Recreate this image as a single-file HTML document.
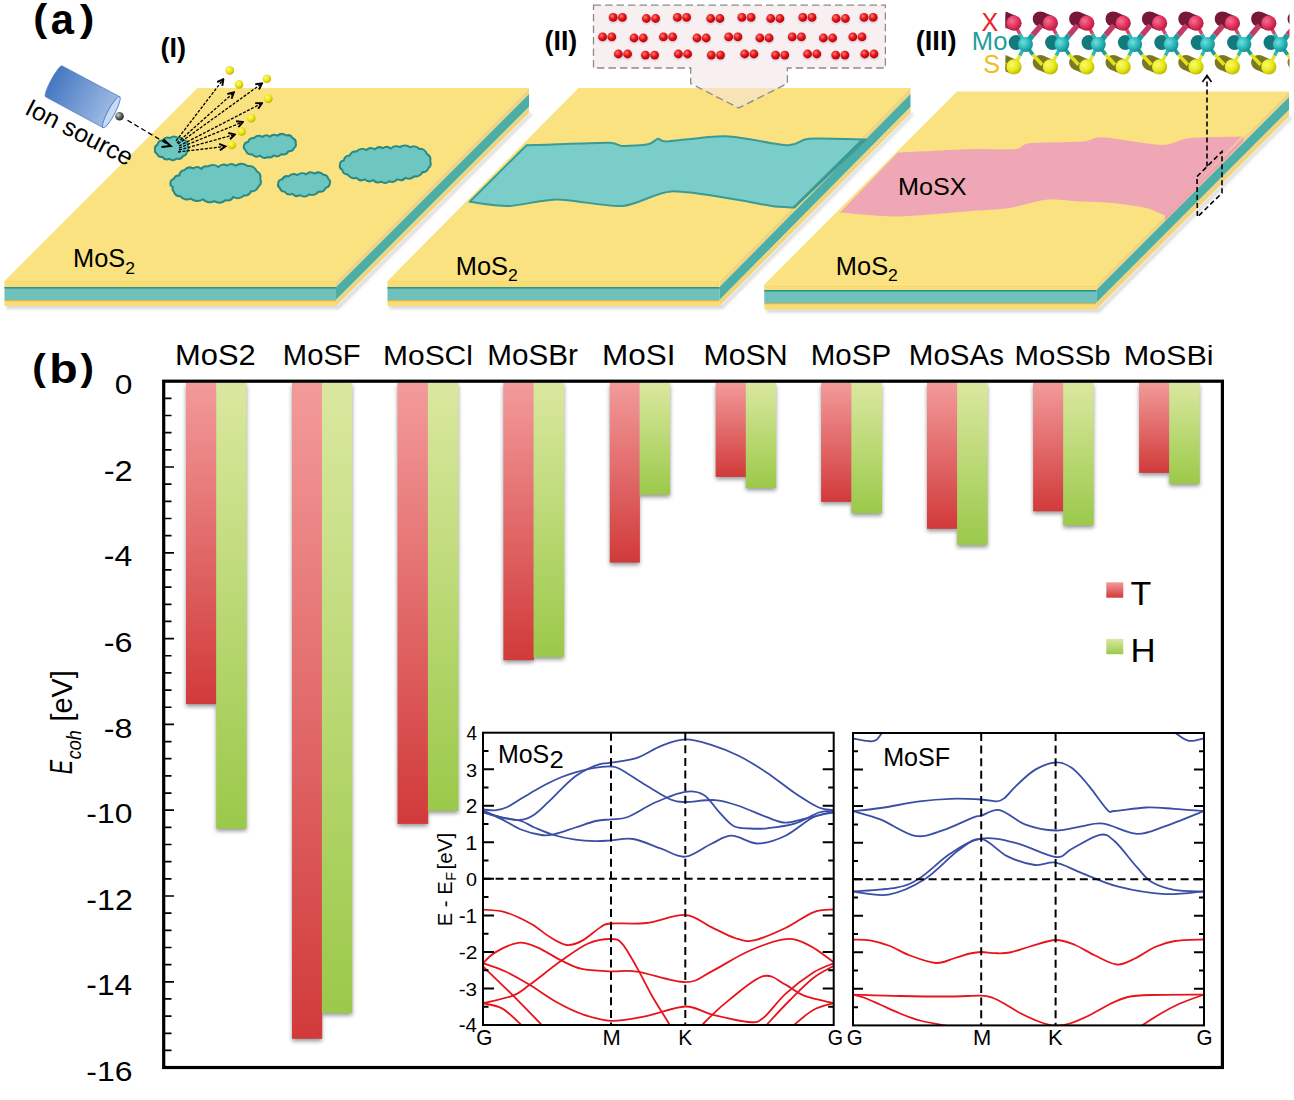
<!DOCTYPE html>
<html><head><meta charset="utf-8"><style>
html,body{margin:0;padding:0;background:#fff;}
svg{display:block;font-family:"Liberation Sans", sans-serif;}
</style></head><body>
<svg width="1294" height="1100" viewBox="0 0 1294 1100">
<defs>
<linearGradient id="cyl" x1="0" y1="0" x2="1" y2="0"><stop offset="0" stop-color="#4577c2"/><stop offset="1" stop-color="#9ebbe3"/></linearGradient>
<radialGradient id="ball" cx="0.35" cy="0.35" r="0.7"><stop offset="0" stop-color="#cfcfcf"/><stop offset="0.5" stop-color="#666"/><stop offset="1" stop-color="#222"/></radialGradient>
<marker id="arr" viewBox="0 0 10 10" refX="8.5" refY="5" markerUnits="userSpaceOnUse" markerWidth="8" markerHeight="8" orient="auto"><path d="M1,1 L8.5,5 L1,9" fill="none" stroke="#000" stroke-width="2.4" stroke-linejoin="miter"/></marker>
<radialGradient id="yb" cx="0.38" cy="0.35" r="0.7"><stop offset="0" stop-color="#fbfb7a"/><stop offset="0.6" stop-color="#ecdf10"/><stop offset="1" stop-color="#b8a800"/></radialGradient>
<radialGradient id="rb" cx="0.38" cy="0.35" r="0.7"><stop offset="0" stop-color="#ff7a7a"/><stop offset="0.5" stop-color="#e81414"/><stop offset="1" stop-color="#b00000"/></radialGradient>
<radialGradient id="xg" cx="0.35" cy="0.35" r="0.7"><stop offset="0" stop-color="#f7708f"/><stop offset="0.6" stop-color="#e0305c"/><stop offset="1" stop-color="#b01c44"/></radialGradient>
<radialGradient id="mg" cx="0.35" cy="0.35" r="0.7"><stop offset="0" stop-color="#6fdede"/><stop offset="0.6" stop-color="#29b5b8"/><stop offset="1" stop-color="#168a8c"/></radialGradient>
<radialGradient id="sg" cx="0.35" cy="0.35" r="0.7"><stop offset="0" stop-color="#fbfb6a"/><stop offset="0.6" stop-color="#e8e81c"/><stop offset="1" stop-color="#b8b800"/></radialGradient>
<clipPath id="chainclip"><rect x="1005.5" y="8" width="284" height="70"/></clipPath>
<linearGradient id="gr" x1="0" y1="0" x2="0" y2="1"><stop offset="0" stop-color="#f39a9a"/><stop offset="1" stop-color="#d13a3a"/></linearGradient>
<linearGradient id="gg" x1="0" y1="0" x2="0" y2="1"><stop offset="0" stop-color="#dae89f"/><stop offset="1" stop-color="#9bc94a"/></linearGradient>
<filter id="bsh" x="-30%" y="-5%" width="160%" height="115%"><feGaussianBlur stdDeviation="2"/></filter>
<filter id="blur2" x="-5%" y="-20%" width="110%" height="150%"><feGaussianBlur stdDeviation="1.5"/></filter>
<clipPath id="c1"><rect x="483" y="732.7" width="350.7" height="292.3"/></clipPath>
<clipPath id="c2"><rect x="853" y="733" width="351" height="292.4"/></clipPath>
</defs>
<rect width="1294" height="1100" fill="#fff"/>
<polygon points="6.5,305 338,305 531,112 532,115 339,309 6.5,309" fill="#bbb" filter="url(#blur2)" opacity="0.6"/>
<polygon points="197.5,88 529,88 336,281 4.5,281" fill="#fae280" />
<polygon points="4.5,281 336,281 336,287 4.5,287" fill="#f9dc74" />
<polygon points="4.5,287 336,287 336,300 4.5,300" fill="#70c1bc" />
<rect x="4.5" y="287" width="331.5" height="1.6" fill="#2a948e"/>
<polygon points="4.5,300 336,300 336,306 4.5,306" fill="#f9dc74" />
<rect x="4.5" y="300" width="331.5" height="1.2" fill="#d8b450"/>
<polygon points="336,281 529,88 529,94 336,287" fill="#f1d57c" />
<polygon points="336,287 529,94 529,107 336,300" fill="#4caea7" />
<polygon points="336,300 529,107 529,113 336,306" fill="#f1d57c" />
<polygon points="389.5,305 721.5,305 912.5,112 913.5,115 722.5,309 389.5,309" fill="#bbb" filter="url(#blur2)" opacity="0.6"/>
<polygon points="578.5,88 910.5,88 719.5,281 387.5,281" fill="#fae280" />
<polygon points="387.5,281 719.5,281 719.5,287 387.5,287" fill="#f9dc74" />
<polygon points="387.5,287 719.5,287 719.5,300 387.5,300" fill="#70c1bc" />
<rect x="387.5" y="287" width="332" height="1.6" fill="#2a948e"/>
<polygon points="387.5,300 719.5,300 719.5,306 387.5,306" fill="#f9dc74" />
<rect x="387.5" y="300" width="332" height="1.2" fill="#d8b450"/>
<polygon points="719.5,281 910.5,88 910.5,94 719.5,287" fill="#f1d57c" />
<polygon points="719.5,287 910.5,94 910.5,107 719.5,300" fill="#4caea7" />
<polygon points="719.5,300 910.5,107 910.5,113 719.5,306" fill="#f1d57c" />
<polygon points="766.3,308.5 1098.3,308.5 1291,115.5 1292,118.5 1099.3,312.5 766.3,312.5" fill="#bbb" filter="url(#blur2)" opacity="0.6"/>
<polygon points="957,91.5 1289,91.5 1096.3,284.5 764.3,284.5" fill="#fae280" />
<polygon points="764.3,284.5 1096.3,284.5 1096.3,290 764.3,290" fill="#f9dc74" />
<polygon points="764.3,290 1096.3,290 1096.3,303 764.3,303" fill="#70c1bc" />
<rect x="764.3" y="290" width="332" height="1.6" fill="#2a948e"/>
<polygon points="764.3,303 1096.3,303 1096.3,309.5 764.3,309.5" fill="#f9dc74" />
<rect x="764.3" y="303" width="332" height="1.2" fill="#d8b450"/>
<polygon points="1096.3,284.5 1289,91.5 1289,97 1096.3,290" fill="#f1d57c" />
<polygon points="1096.3,290 1289,97 1289,110 1096.3,303" fill="#4caea7" />
<polygon points="1096.3,303 1289,110 1289,116.5 1096.3,309.5" fill="#f1d57c" />
<path d="M155,149.92 A4.57,4.57 0 0 1 157.47,144.76 A5.57,5.57 0 0 1 162.72,140.19 A6.18,6.18 0 0 1 170.13,137.99 A5.91,5.91 0 0 1 177.51,137.87 A5.24,5.24 0 0 1 183.68,140.07 A5.23,5.23 0 0 1 187.72,145.2 A4.93,4.93 0 0 1 187.02,151.32 A4.83,4.83 0 0 1 183.16,155.96 A5.69,5.69 0 0 1 176.55,158.61 A5.87,5.87 0 0 1 169.22,158.82 A5.8,5.8 0 0 1 162.24,156.83 A4.94,4.94 0 0 1 156.94,153.67 A3.38,3.38 0 0 1 155,149.92 Z" fill="#6ec6c1" stroke="#2a8883" stroke-width="2" stroke-linejoin="round"/>
<path d="M244.1,145.41 A4.27,4.27 0 0 1 248.19,141.97 A5.45,5.45 0 0 1 253.81,138.12 A6.99,6.99 0 0 1 262.45,136.86 A5.98,5.98 0 0 1 269.93,136.7 A6.04,6.04 0 0 1 277.42,135.71 A6.92,6.92 0 0 1 286.06,135.45 A5.52,5.52 0 0 1 292.46,138.03 A5.08,5.08 0 0 1 295.7,143.49 A4.01,4.01 0 0 1 294.01,148.2 A5.06,5.06 0 0 1 288.44,151.22 A6.19,6.19 0 0 1 281.3,154.2 A6.2,6.2 0 0 1 273.66,155.46 A4.92,4.92 0 0 1 267.71,157.02 A6.25,6.25 0 0 1 260.02,155.7 A6.42,6.42 0 0 1 252.1,154.37 A5.99,5.99 0 0 1 245.68,150.51 A4.27,4.27 0 0 1 244.1,145.41 Z" fill="#6ec6c1" stroke="#2a8883" stroke-width="2" stroke-linejoin="round"/>
<path d="M170.4,183.08 A4.32,4.32 0 0 1 173.8,178.88 A5.12,5.12 0 0 1 179.28,175.59 A6.3,6.3 0 0 1 184.72,169.9 A6.83,6.83 0 0 1 193.12,168.37 A6.68,6.68 0 0 1 201.45,168.96 A5.5,5.5 0 0 1 207.89,166.56 A8.37,8.37 0 0 1 218.34,167.03 A7.29,7.29 0 0 1 227.34,165.55 A6.68,6.68 0 0 1 235.68,165.78 A9.45,9.45 0 0 1 247.49,166.02 A8.63,8.63 0 0 1 256.83,171.43 A6.53,6.53 0 0 1 260.2,178.87 A6.18,6.18 0 0 1 258.5,186.41 A7.31,7.31 0 0 1 250.83,191.36 A6.29,6.29 0 0 1 244.08,195.41 A8.79,8.79 0 0 1 233.19,196.91 A6.5,6.5 0 0 1 225.71,200.09 A9.16,9.16 0 0 1 214.31,201.2 A9.2,9.2 0 0 1 202.99,199.23 A9.92,9.92 0 0 1 190.6,198.6 A8.28,8.28 0 0 1 180.51,196.29 A6.68,6.68 0 0 1 173.77,191.37 A3.43,3.43 0 0 1 172.89,187.17 A3.84,3.84 0 0 1 170.4,183.08 Z" fill="#6ec6c1" stroke="#2a8883" stroke-width="2" stroke-linejoin="round"/>
<path d="M278.2,183.22 A4.52,4.52 0 0 1 282.28,179.31 A5.58,5.58 0 0 1 288.6,176.35 A7.03,7.03 0 0 1 297.29,175.11 A7.11,7.11 0 0 1 306.15,174.37 A6.76,6.76 0 0 1 314.57,173.68 A7.11,7.11 0 0 1 323.39,174.72 A4.85,4.85 0 0 1 328.12,178.51 A4.56,4.56 0 0 1 329.7,183.99 A4.42,4.42 0 0 1 325.72,187.82 A6.52,6.52 0 0 1 318.51,191.64 A7.75,7.75 0 0 1 309.23,194.42 A7.26,7.26 0 0 1 300.19,195.24 A6.22,6.22 0 0 1 292.54,193.83 A6.56,6.56 0 0 1 284.62,191.72 A4.96,4.96 0 0 1 279.79,187.84 A3.9,3.9 0 0 1 278.2,183.22 Z" fill="#6ec6c1" stroke="#2a8883" stroke-width="2" stroke-linejoin="round"/>
<path d="M339.9,164.69 A4.58,4.58 0 0 1 343.8,160.49 A6.15,6.15 0 0 1 349.67,155.54 A6.28,6.28 0 0 1 356.41,151.51 A8.15,8.15 0 0 1 366.49,150.02 A6.63,6.63 0 0 1 374.75,149.34 A6.51,6.51 0 0 1 382.81,148.19 A6.42,6.42 0 0 1 390.83,148.63 A7.38,7.38 0 0 1 399.93,147.14 A8.03,8.03 0 0 1 409.97,147.35 A7.48,7.48 0 0 1 419.19,148.9 A7.28,7.28 0 0 1 426.83,153.84 A6.6,6.6 0 0 1 430.2,161.36 A5.49,5.49 0 0 1 428.5,168.01 A5.79,5.79 0 0 1 422.52,172.1 A7.52,7.52 0 0 1 414.07,176.22 A6.84,6.84 0 0 1 405.66,177.76 A6.75,6.75 0 0 1 397.35,179.24 A6.67,6.67 0 0 1 389.23,181.14 A6.44,6.44 0 0 1 381.19,181.52 A6.6,6.6 0 0 1 373.09,179.99 A6.65,6.65 0 0 1 364.79,179.39 A6.82,6.82 0 0 1 356.4,177.86 A7.23,7.23 0 0 1 347.96,174.63 A6.14,6.14 0 0 1 342.09,169.67 A4.36,4.36 0 0 1 339.9,164.69 Z" fill="#6ec6c1" stroke="#2a8883" stroke-width="2" stroke-linejoin="round"/>
<path d="M526.5,145.3 C530.62,145.17 546.36,144.65 557.4,144.3 C568.44,143.95 600.65,142.47 609.3,142.7 C617.95,142.93 617.1,145.79 622.3,146 C627.5,146.21 643.54,145.26 648.3,144.3 C653.06,143.34 655.41,139.19 658,138.8 C660.59,138.41 658.62,141.75 667.7,141.4 C676.78,141.05 710.09,135.68 726.1,136.2 C742.11,136.72 776.76,144.95 787.8,145.3 C798.84,145.65 798.51,139.57 808.9,138.8 C819.29,138.03 858.13,139.41 865.7,139.5 L794.3,207.6 C791.27,207.39 779.39,207.08 771.6,206 C763.81,204.92 749.31,201.45 735.9,199.5 C722.49,197.55 686.15,190.53 671,191.4 C655.85,192.27 637.45,204.92 622.3,206 C607.15,207.08 572.55,199.5 557.4,199.5 C542.25,199.5 520.39,205.69 508.7,206 C497.01,206.31 474.9,202.36 469.7,201.8 Z" fill="#7acdc8" stroke="#3a9a95" stroke-width="2" stroke-linejoin="round"/>
<polygon points="865.7,139.5 861,139.5 792,207.6 794.3,207.6" fill="#3a9a95" />
<path d="M898,152.6 C903.6,152.32 930,150.98 940,150.5 C950,150.02 962.87,149.2 973,149 C983.13,148.8 1008.48,149.76 1016,149 C1023.52,148.24 1020.52,144.29 1029.4,143.3 C1038.28,142.31 1072.85,142.4 1082.6,141.6 C1092.35,140.8 1091.91,136.85 1102.5,137.3 C1113.09,137.75 1150.47,144.87 1162,145 C1173.53,145.13 1178.33,139.42 1189,138.3 C1199.67,137.18 1234.93,136.83 1242,136.6 L1166,216 C1163.33,214.93 1153.07,209.73 1146,208 C1138.93,206.27 1121.8,203.87 1113,203 C1104.2,202.13 1088.93,201.93 1080,201.5 C1071.07,201.07 1055.4,198.93 1046,199.8 C1036.6,200.67 1020.17,206.45 1009.5,208 C998.83,209.55 981.07,210.28 966,211.4 C950.93,212.52 913.3,216.27 896.5,216.4 C879.7,216.53 847.53,212.93 840,212.4 Z" fill="#f0a7b5" />
<polygon points="1243.5,136.6 1243.5,141.6 1165,221 1165,216" fill="#eea3b1" />
<text x="0" y="0" font-size="25.35" font-weight="normal" font-style="normal" fill="#000" transform="translate(73.07,267.45) scale(1.0014,1)" >MoS</text><text x="0" y="0" font-size="16.86" font-weight="normal" font-style="normal" fill="#000" transform="translate(125.22,273.8) scale(1.0430,1)" >2</text>
<text x="0" y="0" font-size="25.21" font-weight="normal" font-style="normal" fill="#000" transform="translate(455.87,275.05) scale(1.0070,1)" >MoS</text><text x="0" y="0" font-size="16.86" font-weight="normal" font-style="normal" fill="#000" transform="translate(508.02,281.4) scale(1.0430,1)" >2</text>
<text x="0" y="0" font-size="24.93" font-weight="normal" font-style="normal" fill="#000" transform="translate(835.87,275.05) scale(1.0184,1)" >MoS</text><text x="0" y="0" font-size="16.86" font-weight="normal" font-style="normal" fill="#000" transform="translate(888.02,281.4) scale(1.0430,1)" >2</text>
<text x="0" y="0" font-size="23.66" font-weight="normal" font-style="normal" fill="#000" transform="translate(897.98,194.56) scale(1.0646,1)" >MoSX</text>
<g transform="translate(45.1,96.5) rotate(28.2)">
<path d="M0.5,-35 L65.8,-35 L65.8,0 L0.5,0 A3,17.5 0 0 1 0.5,-35 Z" fill="url(#cyl)" stroke="#4a78c0" stroke-width="0.7"/>
<ellipse cx="65.8" cy="-17.5" rx="3.6" ry="17.5" fill="#c9daf2" stroke="#4f80cc" stroke-width="0.9"/>
</g>
<circle cx="119.5" cy="116.3" r="4.3" fill="url(#ball)"/>
<text x="0" y="0" font-size="25" fill="#000" transform="translate(23.6,113.4) rotate(27)">Ion source</text>
<line x1="127.5" y1="120.3" x2="169.5" y2="145.3" stroke="#000" stroke-width="1.3" stroke-dasharray="5,3"/>
<path d="M163.5,139.5 L170.5,146 L161.5,147" fill="none" stroke="#000" stroke-width="2.2"/>
<line x1="176" y1="141" x2="223.4" y2="79.2" stroke="#000" stroke-width="1.3" stroke-dasharray="3,1.5" marker-end="url(#arr)"/>
<line x1="177" y1="143" x2="233.9" y2="92.4" stroke="#000" stroke-width="1.3" stroke-dasharray="3,1.5" marker-end="url(#arr)"/>
<line x1="178" y1="144" x2="262" y2="83.4" stroke="#000" stroke-width="1.3" stroke-dasharray="3,1.5" marker-end="url(#arr)"/>
<line x1="179" y1="146" x2="262" y2="103.2" stroke="#000" stroke-width="1.3" stroke-dasharray="3,1.5" marker-end="url(#arr)"/>
<line x1="179" y1="148" x2="242.8" y2="122" stroke="#000" stroke-width="1.3" stroke-dasharray="3,1.5" marker-end="url(#arr)"/>
<line x1="179" y1="150" x2="234.9" y2="134.5" stroke="#000" stroke-width="1.3" stroke-dasharray="3,1.5" marker-end="url(#arr)"/>
<line x1="178" y1="152" x2="225.5" y2="146.4" stroke="#000" stroke-width="1.3" stroke-dasharray="3,1.5" marker-end="url(#arr)"/>
<circle cx="229.7" cy="70.4" r="4.3" fill="url(#yb)"/>
<circle cx="239" cy="84.4" r="4.3" fill="url(#yb)"/>
<circle cx="266.8" cy="78.8" r="4.3" fill="url(#yb)"/>
<circle cx="268.3" cy="98.6" r="4.3" fill="url(#yb)"/>
<circle cx="251.2" cy="118.2" r="4.3" fill="url(#yb)"/>
<circle cx="241.6" cy="131.4" r="4.3" fill="url(#yb)"/>
<circle cx="231.8" cy="145" r="4.3" fill="url(#yb)"/>
<text x="0" y="0" font-size="37.86" font-weight="bold" font-style="normal" fill="#000" transform="translate(33.19,30.95) scale(1.1131,1)" >(</text>
<text x="0" y="0" font-size="41.82" font-weight="bold" font-style="normal" fill="#000" transform="translate(50.75,33.68) scale(0.9967,1)" >a</text>
<text x="0" y="0" font-size="37.86" font-weight="bold" font-style="normal" fill="#000" transform="translate(79.8,30.95) scale(1.1584,1)" >)</text>
<text x="0" y="0" font-size="27.49" font-weight="bold" font-style="normal" fill="#000" transform="translate(160.54,56.83) scale(0.9860,1)" >(I)</text>
<text x="0" y="0" font-size="27.49" font-weight="bold" font-style="normal" fill="#000" transform="translate(544.56,49.93) scale(0.9734,1)" >(II)</text>
<text x="0" y="0" font-size="27.27" font-weight="bold" font-style="normal" fill="#000" transform="translate(915.64,49.97) scale(1.0005,1)" >(III)</text>
<path d="M593.5,5.1 H885.4 V68 H787.4 V83.5 L738.7,108 L690.7,83.5 V68 H593.5 Z" fill="#f2e4e4" fill-opacity="0.55" stroke="#8a8a8a" stroke-width="1.3" stroke-dasharray="7.5,4"/>
<circle cx="613.2" cy="18.2" r="5.6" fill="#c9c6e6" opacity="0.5"/>
<circle cx="622.4" cy="18.2" r="5.6" fill="#c9c6e6" opacity="0.5"/>
<circle cx="613.2" cy="17.4" r="4.4" fill="url(#rb)"/>
<circle cx="622.4" cy="17.4" r="4.4" fill="url(#rb)"/>
<circle cx="646.4" cy="19.3" r="5.6" fill="#c9c6e6" opacity="0.5"/>
<circle cx="655.6" cy="19.3" r="5.6" fill="#c9c6e6" opacity="0.5"/>
<circle cx="646.4" cy="18.5" r="4.4" fill="url(#rb)"/>
<circle cx="655.6" cy="18.5" r="4.4" fill="url(#rb)"/>
<circle cx="677.4" cy="18.2" r="5.6" fill="#c9c6e6" opacity="0.5"/>
<circle cx="686.6" cy="18.2" r="5.6" fill="#c9c6e6" opacity="0.5"/>
<circle cx="677.4" cy="17.4" r="4.4" fill="url(#rb)"/>
<circle cx="686.6" cy="17.4" r="4.4" fill="url(#rb)"/>
<circle cx="710.7" cy="19.3" r="5.6" fill="#c9c6e6" opacity="0.5"/>
<circle cx="719.9" cy="19.3" r="5.6" fill="#c9c6e6" opacity="0.5"/>
<circle cx="710.7" cy="18.5" r="4.4" fill="url(#rb)"/>
<circle cx="719.9" cy="18.5" r="4.4" fill="url(#rb)"/>
<circle cx="741.9" cy="18.2" r="5.6" fill="#c9c6e6" opacity="0.5"/>
<circle cx="751.1" cy="18.2" r="5.6" fill="#c9c6e6" opacity="0.5"/>
<circle cx="741.9" cy="17.4" r="4.4" fill="url(#rb)"/>
<circle cx="751.1" cy="17.4" r="4.4" fill="url(#rb)"/>
<circle cx="770.7" cy="19.3" r="5.6" fill="#c9c6e6" opacity="0.5"/>
<circle cx="779.9" cy="19.3" r="5.6" fill="#c9c6e6" opacity="0.5"/>
<circle cx="770.7" cy="18.5" r="4.4" fill="url(#rb)"/>
<circle cx="779.9" cy="18.5" r="4.4" fill="url(#rb)"/>
<circle cx="802.8" cy="18.2" r="5.6" fill="#c9c6e6" opacity="0.5"/>
<circle cx="812" cy="18.2" r="5.6" fill="#c9c6e6" opacity="0.5"/>
<circle cx="802.8" cy="17.4" r="4.4" fill="url(#rb)"/>
<circle cx="812" cy="17.4" r="4.4" fill="url(#rb)"/>
<circle cx="836.2" cy="19.3" r="5.6" fill="#c9c6e6" opacity="0.5"/>
<circle cx="845.4" cy="19.3" r="5.6" fill="#c9c6e6" opacity="0.5"/>
<circle cx="836.2" cy="18.5" r="4.4" fill="url(#rb)"/>
<circle cx="845.4" cy="18.5" r="4.4" fill="url(#rb)"/>
<circle cx="864" cy="18.2" r="5.6" fill="#c9c6e6" opacity="0.5"/>
<circle cx="873.2" cy="18.2" r="5.6" fill="#c9c6e6" opacity="0.5"/>
<circle cx="864" cy="17.4" r="4.4" fill="url(#rb)"/>
<circle cx="873.2" cy="17.4" r="4.4" fill="url(#rb)"/>
<circle cx="602.6" cy="37.7" r="5.6" fill="#c9c6e6" opacity="0.5"/>
<circle cx="611.8" cy="37.7" r="5.6" fill="#c9c6e6" opacity="0.5"/>
<circle cx="602.6" cy="36.9" r="4.4" fill="url(#rb)"/>
<circle cx="611.8" cy="36.9" r="4.4" fill="url(#rb)"/>
<circle cx="634.1" cy="38.8" r="5.6" fill="#c9c6e6" opacity="0.5"/>
<circle cx="643.3" cy="38.8" r="5.6" fill="#c9c6e6" opacity="0.5"/>
<circle cx="634.1" cy="38" r="4.4" fill="url(#rb)"/>
<circle cx="643.3" cy="38" r="4.4" fill="url(#rb)"/>
<circle cx="663.4" cy="37.7" r="5.6" fill="#c9c6e6" opacity="0.5"/>
<circle cx="672.6" cy="37.7" r="5.6" fill="#c9c6e6" opacity="0.5"/>
<circle cx="663.4" cy="36.9" r="4.4" fill="url(#rb)"/>
<circle cx="672.6" cy="36.9" r="4.4" fill="url(#rb)"/>
<circle cx="697" cy="38.8" r="5.6" fill="#c9c6e6" opacity="0.5"/>
<circle cx="706.2" cy="38.8" r="5.6" fill="#c9c6e6" opacity="0.5"/>
<circle cx="697" cy="38" r="4.4" fill="url(#rb)"/>
<circle cx="706.2" cy="38" r="4.4" fill="url(#rb)"/>
<circle cx="728.7" cy="37.7" r="5.6" fill="#c9c6e6" opacity="0.5"/>
<circle cx="737.9" cy="37.7" r="5.6" fill="#c9c6e6" opacity="0.5"/>
<circle cx="728.7" cy="36.9" r="4.4" fill="url(#rb)"/>
<circle cx="737.9" cy="36.9" r="4.4" fill="url(#rb)"/>
<circle cx="759.9" cy="38.8" r="5.6" fill="#c9c6e6" opacity="0.5"/>
<circle cx="769.1" cy="38.8" r="5.6" fill="#c9c6e6" opacity="0.5"/>
<circle cx="759.9" cy="38" r="4.4" fill="url(#rb)"/>
<circle cx="769.1" cy="38" r="4.4" fill="url(#rb)"/>
<circle cx="792.2" cy="37.7" r="5.6" fill="#c9c6e6" opacity="0.5"/>
<circle cx="801.4" cy="37.7" r="5.6" fill="#c9c6e6" opacity="0.5"/>
<circle cx="792.2" cy="36.9" r="4.4" fill="url(#rb)"/>
<circle cx="801.4" cy="36.9" r="4.4" fill="url(#rb)"/>
<circle cx="823.4" cy="38.8" r="5.6" fill="#c9c6e6" opacity="0.5"/>
<circle cx="832.6" cy="38.8" r="5.6" fill="#c9c6e6" opacity="0.5"/>
<circle cx="823.4" cy="38" r="4.4" fill="url(#rb)"/>
<circle cx="832.6" cy="38" r="4.4" fill="url(#rb)"/>
<circle cx="852.8" cy="37.7" r="5.6" fill="#c9c6e6" opacity="0.5"/>
<circle cx="862" cy="37.7" r="5.6" fill="#c9c6e6" opacity="0.5"/>
<circle cx="852.8" cy="36.9" r="4.4" fill="url(#rb)"/>
<circle cx="862" cy="36.9" r="4.4" fill="url(#rb)"/>
<circle cx="618.4" cy="54.8" r="5.6" fill="#c9c6e6" opacity="0.5"/>
<circle cx="627.6" cy="54.8" r="5.6" fill="#c9c6e6" opacity="0.5"/>
<circle cx="618.4" cy="54" r="4.4" fill="url(#rb)"/>
<circle cx="627.6" cy="54" r="4.4" fill="url(#rb)"/>
<circle cx="645.4" cy="55.9" r="5.6" fill="#c9c6e6" opacity="0.5"/>
<circle cx="654.6" cy="55.9" r="5.6" fill="#c9c6e6" opacity="0.5"/>
<circle cx="645.4" cy="55.1" r="4.4" fill="url(#rb)"/>
<circle cx="654.6" cy="55.1" r="4.4" fill="url(#rb)"/>
<circle cx="678.4" cy="54.8" r="5.6" fill="#c9c6e6" opacity="0.5"/>
<circle cx="687.6" cy="54.8" r="5.6" fill="#c9c6e6" opacity="0.5"/>
<circle cx="678.4" cy="54" r="4.4" fill="url(#rb)"/>
<circle cx="687.6" cy="54" r="4.4" fill="url(#rb)"/>
<circle cx="711.3" cy="55.9" r="5.6" fill="#c9c6e6" opacity="0.5"/>
<circle cx="720.5" cy="55.9" r="5.6" fill="#c9c6e6" opacity="0.5"/>
<circle cx="711.3" cy="55.1" r="4.4" fill="url(#rb)"/>
<circle cx="720.5" cy="55.1" r="4.4" fill="url(#rb)"/>
<circle cx="744.7" cy="54.8" r="5.6" fill="#c9c6e6" opacity="0.5"/>
<circle cx="753.9" cy="54.8" r="5.6" fill="#c9c6e6" opacity="0.5"/>
<circle cx="744.7" cy="54" r="4.4" fill="url(#rb)"/>
<circle cx="753.9" cy="54" r="4.4" fill="url(#rb)"/>
<circle cx="775.6" cy="55.9" r="5.6" fill="#c9c6e6" opacity="0.5"/>
<circle cx="784.8" cy="55.9" r="5.6" fill="#c9c6e6" opacity="0.5"/>
<circle cx="775.6" cy="55.1" r="4.4" fill="url(#rb)"/>
<circle cx="784.8" cy="55.1" r="4.4" fill="url(#rb)"/>
<circle cx="807.6" cy="54.8" r="5.6" fill="#c9c6e6" opacity="0.5"/>
<circle cx="816.8" cy="54.8" r="5.6" fill="#c9c6e6" opacity="0.5"/>
<circle cx="807.6" cy="54" r="4.4" fill="url(#rb)"/>
<circle cx="816.8" cy="54" r="4.4" fill="url(#rb)"/>
<circle cx="835.7" cy="55.9" r="5.6" fill="#c9c6e6" opacity="0.5"/>
<circle cx="844.9" cy="55.9" r="5.6" fill="#c9c6e6" opacity="0.5"/>
<circle cx="835.7" cy="55.1" r="4.4" fill="url(#rb)"/>
<circle cx="844.9" cy="55.1" r="4.4" fill="url(#rb)"/>
<circle cx="864.8" cy="54.8" r="5.6" fill="#c9c6e6" opacity="0.5"/>
<circle cx="874" cy="54.8" r="5.6" fill="#c9c6e6" opacity="0.5"/>
<circle cx="864.8" cy="54" r="4.4" fill="url(#rb)"/>
<circle cx="874" cy="54" r="4.4" fill="url(#rb)"/>
<text x="0" y="0" font-size="26.52" font-weight="normal" font-style="normal" fill="#e8242a" transform="translate(981.58,30.6) scale(0.9426,1)" >X</text>
<text x="0" y="0" font-size="26.14" font-weight="normal" font-style="normal" fill="#1f9e9b" transform="translate(971.85,49.94) scale(0.9789,1)" >Mo</text>
<text x="0" y="0" font-size="26.34" font-weight="normal" font-style="normal" fill="#edc01e" transform="translate(983.37,72.84) scale(0.9575,1)" >S</text>
<g clip-path="url(#chainclip)">
<line x1="967.4" y1="18.9" x2="977.6" y2="23.2" stroke="#7a1a3c" stroke-width="15"/>
<circle cx="967.4" cy="18.9" r="7.5" fill="#761838"/>
<line x1="967.4" y1="62.5" x2="977.6" y2="66.8" stroke="#7e7c24" stroke-width="15"/>
<circle cx="967.4" cy="62.5" r="7.5" fill="#7a7822"/>
<circle cx="979.7" cy="42.5" r="7.4" fill="#137a7c"/>
<line x1="1003.8" y1="18.9" x2="1014" y2="23.2" stroke="#7a1a3c" stroke-width="15"/>
<circle cx="1003.8" cy="18.9" r="7.5" fill="#761838"/>
<line x1="1003.8" y1="62.5" x2="1014" y2="66.8" stroke="#7e7c24" stroke-width="15"/>
<circle cx="1003.8" cy="62.5" r="7.5" fill="#7a7822"/>
<circle cx="1016.1" cy="42.5" r="7.4" fill="#137a7c"/>
<line x1="1040.2" y1="18.9" x2="1050.4" y2="23.2" stroke="#7a1a3c" stroke-width="15"/>
<circle cx="1040.2" cy="18.9" r="7.5" fill="#761838"/>
<line x1="1040.2" y1="62.5" x2="1050.4" y2="66.8" stroke="#7e7c24" stroke-width="15"/>
<circle cx="1040.2" cy="62.5" r="7.5" fill="#7a7822"/>
<circle cx="1052.5" cy="42.5" r="7.4" fill="#137a7c"/>
<line x1="1076.6" y1="18.9" x2="1086.8" y2="23.2" stroke="#7a1a3c" stroke-width="15"/>
<circle cx="1076.6" cy="18.9" r="7.5" fill="#761838"/>
<line x1="1076.6" y1="62.5" x2="1086.8" y2="66.8" stroke="#7e7c24" stroke-width="15"/>
<circle cx="1076.6" cy="62.5" r="7.5" fill="#7a7822"/>
<circle cx="1088.9" cy="42.5" r="7.4" fill="#137a7c"/>
<line x1="1113" y1="18.9" x2="1123.2" y2="23.2" stroke="#7a1a3c" stroke-width="15"/>
<circle cx="1113" cy="18.9" r="7.5" fill="#761838"/>
<line x1="1113" y1="62.5" x2="1123.2" y2="66.8" stroke="#7e7c24" stroke-width="15"/>
<circle cx="1113" cy="62.5" r="7.5" fill="#7a7822"/>
<circle cx="1125.3" cy="42.5" r="7.4" fill="#137a7c"/>
<line x1="1149.4" y1="18.9" x2="1159.6" y2="23.2" stroke="#7a1a3c" stroke-width="15"/>
<circle cx="1149.4" cy="18.9" r="7.5" fill="#761838"/>
<line x1="1149.4" y1="62.5" x2="1159.6" y2="66.8" stroke="#7e7c24" stroke-width="15"/>
<circle cx="1149.4" cy="62.5" r="7.5" fill="#7a7822"/>
<circle cx="1161.7" cy="42.5" r="7.4" fill="#137a7c"/>
<line x1="1185.8" y1="18.9" x2="1196" y2="23.2" stroke="#7a1a3c" stroke-width="15"/>
<circle cx="1185.8" cy="18.9" r="7.5" fill="#761838"/>
<line x1="1185.8" y1="62.5" x2="1196" y2="66.8" stroke="#7e7c24" stroke-width="15"/>
<circle cx="1185.8" cy="62.5" r="7.5" fill="#7a7822"/>
<circle cx="1198.1" cy="42.5" r="7.4" fill="#137a7c"/>
<line x1="1222.2" y1="18.9" x2="1232.4" y2="23.2" stroke="#7a1a3c" stroke-width="15"/>
<circle cx="1222.2" cy="18.9" r="7.5" fill="#761838"/>
<line x1="1222.2" y1="62.5" x2="1232.4" y2="66.8" stroke="#7e7c24" stroke-width="15"/>
<circle cx="1222.2" cy="62.5" r="7.5" fill="#7a7822"/>
<circle cx="1234.5" cy="42.5" r="7.4" fill="#137a7c"/>
<line x1="1258.6" y1="18.9" x2="1268.8" y2="23.2" stroke="#7a1a3c" stroke-width="15"/>
<circle cx="1258.6" cy="18.9" r="7.5" fill="#761838"/>
<line x1="1258.6" y1="62.5" x2="1268.8" y2="66.8" stroke="#7e7c24" stroke-width="15"/>
<circle cx="1258.6" cy="62.5" r="7.5" fill="#7a7822"/>
<circle cx="1270.9" cy="42.5" r="7.4" fill="#137a7c"/>
<line x1="1295" y1="18.9" x2="1305.2" y2="23.2" stroke="#7a1a3c" stroke-width="15"/>
<circle cx="1295" cy="18.9" r="7.5" fill="#761838"/>
<line x1="1295" y1="62.5" x2="1305.2" y2="66.8" stroke="#7e7c24" stroke-width="15"/>
<circle cx="1295" cy="62.5" r="7.5" fill="#7a7822"/>
<circle cx="1307.3" cy="42.5" r="7.4" fill="#137a7c"/>
<line x1="989.1" y1="44.5" x2="996.45" y2="34.85" stroke="#1a9c9c" stroke-width="5.5"/>
<line x1="996.45" y1="34.85" x2="1004.8" y2="25.2" stroke="#c23a66" stroke-width="5.5"/>
<line x1="989.1" y1="44.5" x2="996.45" y2="54.65" stroke="#1a9c9c" stroke-width="3.6"/>
<line x1="996.45" y1="54.65" x2="1005.8" y2="64.8" stroke="#e2e21a" stroke-width="3.6"/>
<line x1="989.1" y1="44.5" x2="983.35" y2="33.85" stroke="#2ab8b8" stroke-width="3.4"/>
<line x1="983.35" y1="33.85" x2="977.6" y2="23.2" stroke="#e8386a" stroke-width="3.4"/>
<line x1="989.1" y1="44.5" x2="983.35" y2="55.65" stroke="#2ab8b8" stroke-width="3.4"/>
<line x1="983.35" y1="55.65" x2="977.6" y2="66.8" stroke="#e6e61e" stroke-width="3.4"/>
<line x1="1025.5" y1="44.5" x2="1032.85" y2="34.85" stroke="#1a9c9c" stroke-width="5.5"/>
<line x1="1032.85" y1="34.85" x2="1041.2" y2="25.2" stroke="#c23a66" stroke-width="5.5"/>
<line x1="1025.5" y1="44.5" x2="1032.85" y2="54.65" stroke="#1a9c9c" stroke-width="3.6"/>
<line x1="1032.85" y1="54.65" x2="1042.2" y2="64.8" stroke="#e2e21a" stroke-width="3.6"/>
<line x1="1025.5" y1="44.5" x2="1019.75" y2="33.85" stroke="#2ab8b8" stroke-width="3.4"/>
<line x1="1019.75" y1="33.85" x2="1014" y2="23.2" stroke="#e8386a" stroke-width="3.4"/>
<line x1="1025.5" y1="44.5" x2="1019.75" y2="55.65" stroke="#2ab8b8" stroke-width="3.4"/>
<line x1="1019.75" y1="55.65" x2="1014" y2="66.8" stroke="#e6e61e" stroke-width="3.4"/>
<line x1="1061.9" y1="44.5" x2="1069.25" y2="34.85" stroke="#1a9c9c" stroke-width="5.5"/>
<line x1="1069.25" y1="34.85" x2="1077.6" y2="25.2" stroke="#c23a66" stroke-width="5.5"/>
<line x1="1061.9" y1="44.5" x2="1069.25" y2="54.65" stroke="#1a9c9c" stroke-width="3.6"/>
<line x1="1069.25" y1="54.65" x2="1078.6" y2="64.8" stroke="#e2e21a" stroke-width="3.6"/>
<line x1="1061.9" y1="44.5" x2="1056.15" y2="33.85" stroke="#2ab8b8" stroke-width="3.4"/>
<line x1="1056.15" y1="33.85" x2="1050.4" y2="23.2" stroke="#e8386a" stroke-width="3.4"/>
<line x1="1061.9" y1="44.5" x2="1056.15" y2="55.65" stroke="#2ab8b8" stroke-width="3.4"/>
<line x1="1056.15" y1="55.65" x2="1050.4" y2="66.8" stroke="#e6e61e" stroke-width="3.4"/>
<line x1="1098.3" y1="44.5" x2="1105.65" y2="34.85" stroke="#1a9c9c" stroke-width="5.5"/>
<line x1="1105.65" y1="34.85" x2="1114" y2="25.2" stroke="#c23a66" stroke-width="5.5"/>
<line x1="1098.3" y1="44.5" x2="1105.65" y2="54.65" stroke="#1a9c9c" stroke-width="3.6"/>
<line x1="1105.65" y1="54.65" x2="1115" y2="64.8" stroke="#e2e21a" stroke-width="3.6"/>
<line x1="1098.3" y1="44.5" x2="1092.55" y2="33.85" stroke="#2ab8b8" stroke-width="3.4"/>
<line x1="1092.55" y1="33.85" x2="1086.8" y2="23.2" stroke="#e8386a" stroke-width="3.4"/>
<line x1="1098.3" y1="44.5" x2="1092.55" y2="55.65" stroke="#2ab8b8" stroke-width="3.4"/>
<line x1="1092.55" y1="55.65" x2="1086.8" y2="66.8" stroke="#e6e61e" stroke-width="3.4"/>
<line x1="1134.7" y1="44.5" x2="1142.05" y2="34.85" stroke="#1a9c9c" stroke-width="5.5"/>
<line x1="1142.05" y1="34.85" x2="1150.4" y2="25.2" stroke="#c23a66" stroke-width="5.5"/>
<line x1="1134.7" y1="44.5" x2="1142.05" y2="54.65" stroke="#1a9c9c" stroke-width="3.6"/>
<line x1="1142.05" y1="54.65" x2="1151.4" y2="64.8" stroke="#e2e21a" stroke-width="3.6"/>
<line x1="1134.7" y1="44.5" x2="1128.95" y2="33.85" stroke="#2ab8b8" stroke-width="3.4"/>
<line x1="1128.95" y1="33.85" x2="1123.2" y2="23.2" stroke="#e8386a" stroke-width="3.4"/>
<line x1="1134.7" y1="44.5" x2="1128.95" y2="55.65" stroke="#2ab8b8" stroke-width="3.4"/>
<line x1="1128.95" y1="55.65" x2="1123.2" y2="66.8" stroke="#e6e61e" stroke-width="3.4"/>
<line x1="1171.1" y1="44.5" x2="1178.45" y2="34.85" stroke="#1a9c9c" stroke-width="5.5"/>
<line x1="1178.45" y1="34.85" x2="1186.8" y2="25.2" stroke="#c23a66" stroke-width="5.5"/>
<line x1="1171.1" y1="44.5" x2="1178.45" y2="54.65" stroke="#1a9c9c" stroke-width="3.6"/>
<line x1="1178.45" y1="54.65" x2="1187.8" y2="64.8" stroke="#e2e21a" stroke-width="3.6"/>
<line x1="1171.1" y1="44.5" x2="1165.35" y2="33.85" stroke="#2ab8b8" stroke-width="3.4"/>
<line x1="1165.35" y1="33.85" x2="1159.6" y2="23.2" stroke="#e8386a" stroke-width="3.4"/>
<line x1="1171.1" y1="44.5" x2="1165.35" y2="55.65" stroke="#2ab8b8" stroke-width="3.4"/>
<line x1="1165.35" y1="55.65" x2="1159.6" y2="66.8" stroke="#e6e61e" stroke-width="3.4"/>
<line x1="1207.5" y1="44.5" x2="1214.85" y2="34.85" stroke="#1a9c9c" stroke-width="5.5"/>
<line x1="1214.85" y1="34.85" x2="1223.2" y2="25.2" stroke="#c23a66" stroke-width="5.5"/>
<line x1="1207.5" y1="44.5" x2="1214.85" y2="54.65" stroke="#1a9c9c" stroke-width="3.6"/>
<line x1="1214.85" y1="54.65" x2="1224.2" y2="64.8" stroke="#e2e21a" stroke-width="3.6"/>
<line x1="1207.5" y1="44.5" x2="1201.75" y2="33.85" stroke="#2ab8b8" stroke-width="3.4"/>
<line x1="1201.75" y1="33.85" x2="1196" y2="23.2" stroke="#e8386a" stroke-width="3.4"/>
<line x1="1207.5" y1="44.5" x2="1201.75" y2="55.65" stroke="#2ab8b8" stroke-width="3.4"/>
<line x1="1201.75" y1="55.65" x2="1196" y2="66.8" stroke="#e6e61e" stroke-width="3.4"/>
<line x1="1243.9" y1="44.5" x2="1251.25" y2="34.85" stroke="#1a9c9c" stroke-width="5.5"/>
<line x1="1251.25" y1="34.85" x2="1259.6" y2="25.2" stroke="#c23a66" stroke-width="5.5"/>
<line x1="1243.9" y1="44.5" x2="1251.25" y2="54.65" stroke="#1a9c9c" stroke-width="3.6"/>
<line x1="1251.25" y1="54.65" x2="1260.6" y2="64.8" stroke="#e2e21a" stroke-width="3.6"/>
<line x1="1243.9" y1="44.5" x2="1238.15" y2="33.85" stroke="#2ab8b8" stroke-width="3.4"/>
<line x1="1238.15" y1="33.85" x2="1232.4" y2="23.2" stroke="#e8386a" stroke-width="3.4"/>
<line x1="1243.9" y1="44.5" x2="1238.15" y2="55.65" stroke="#2ab8b8" stroke-width="3.4"/>
<line x1="1238.15" y1="55.65" x2="1232.4" y2="66.8" stroke="#e6e61e" stroke-width="3.4"/>
<line x1="1280.3" y1="44.5" x2="1287.65" y2="34.85" stroke="#1a9c9c" stroke-width="5.5"/>
<line x1="1287.65" y1="34.85" x2="1296" y2="25.2" stroke="#c23a66" stroke-width="5.5"/>
<line x1="1280.3" y1="44.5" x2="1287.65" y2="54.65" stroke="#1a9c9c" stroke-width="3.6"/>
<line x1="1287.65" y1="54.65" x2="1297" y2="64.8" stroke="#e2e21a" stroke-width="3.6"/>
<line x1="1280.3" y1="44.5" x2="1274.55" y2="33.85" stroke="#2ab8b8" stroke-width="3.4"/>
<line x1="1274.55" y1="33.85" x2="1268.8" y2="23.2" stroke="#e8386a" stroke-width="3.4"/>
<line x1="1280.3" y1="44.5" x2="1274.55" y2="55.65" stroke="#2ab8b8" stroke-width="3.4"/>
<line x1="1274.55" y1="55.65" x2="1268.8" y2="66.8" stroke="#e6e61e" stroke-width="3.4"/>
<line x1="1316.7" y1="44.5" x2="1324.05" y2="34.85" stroke="#1a9c9c" stroke-width="5.5"/>
<line x1="1324.05" y1="34.85" x2="1332.4" y2="25.2" stroke="#c23a66" stroke-width="5.5"/>
<line x1="1316.7" y1="44.5" x2="1324.05" y2="54.65" stroke="#1a9c9c" stroke-width="3.6"/>
<line x1="1324.05" y1="54.65" x2="1333.4" y2="64.8" stroke="#e2e21a" stroke-width="3.6"/>
<line x1="1316.7" y1="44.5" x2="1310.95" y2="33.85" stroke="#2ab8b8" stroke-width="3.4"/>
<line x1="1310.95" y1="33.85" x2="1305.2" y2="23.2" stroke="#e8386a" stroke-width="3.4"/>
<line x1="1316.7" y1="44.5" x2="1310.95" y2="55.65" stroke="#2ab8b8" stroke-width="3.4"/>
<line x1="1310.95" y1="55.65" x2="1305.2" y2="66.8" stroke="#e6e61e" stroke-width="3.4"/>
<circle cx="977.6" cy="23.2" r="7.6" fill="url(#xg)"/>
<circle cx="977.6" cy="66.8" r="7.6" fill="url(#sg)"/>
<circle cx="989.1" cy="44.5" r="7.4" fill="url(#mg)"/>
<circle cx="1014" cy="23.2" r="7.6" fill="url(#xg)"/>
<circle cx="1014" cy="66.8" r="7.6" fill="url(#sg)"/>
<circle cx="1025.5" cy="44.5" r="7.4" fill="url(#mg)"/>
<circle cx="1050.4" cy="23.2" r="7.6" fill="url(#xg)"/>
<circle cx="1050.4" cy="66.8" r="7.6" fill="url(#sg)"/>
<circle cx="1061.9" cy="44.5" r="7.4" fill="url(#mg)"/>
<circle cx="1086.8" cy="23.2" r="7.6" fill="url(#xg)"/>
<circle cx="1086.8" cy="66.8" r="7.6" fill="url(#sg)"/>
<circle cx="1098.3" cy="44.5" r="7.4" fill="url(#mg)"/>
<circle cx="1123.2" cy="23.2" r="7.6" fill="url(#xg)"/>
<circle cx="1123.2" cy="66.8" r="7.6" fill="url(#sg)"/>
<circle cx="1134.7" cy="44.5" r="7.4" fill="url(#mg)"/>
<circle cx="1159.6" cy="23.2" r="7.6" fill="url(#xg)"/>
<circle cx="1159.6" cy="66.8" r="7.6" fill="url(#sg)"/>
<circle cx="1171.1" cy="44.5" r="7.4" fill="url(#mg)"/>
<circle cx="1196" cy="23.2" r="7.6" fill="url(#xg)"/>
<circle cx="1196" cy="66.8" r="7.6" fill="url(#sg)"/>
<circle cx="1207.5" cy="44.5" r="7.4" fill="url(#mg)"/>
<circle cx="1232.4" cy="23.2" r="7.6" fill="url(#xg)"/>
<circle cx="1232.4" cy="66.8" r="7.6" fill="url(#sg)"/>
<circle cx="1243.9" cy="44.5" r="7.4" fill="url(#mg)"/>
<circle cx="1268.8" cy="23.2" r="7.6" fill="url(#xg)"/>
<circle cx="1268.8" cy="66.8" r="7.6" fill="url(#sg)"/>
<circle cx="1280.3" cy="44.5" r="7.4" fill="url(#mg)"/>
<circle cx="1305.2" cy="23.2" r="7.6" fill="url(#xg)"/>
<circle cx="1305.2" cy="66.8" r="7.6" fill="url(#sg)"/>
<circle cx="1316.7" cy="44.5" r="7.4" fill="url(#mg)"/>
</g>
<path d="M1197,176.5 L1222,151.6 L1222,193 L1197.4,217 Z" fill="none" stroke="#000" stroke-width="1.6" stroke-dasharray="5,3"/>
<line x1="1207" y1="166.5" x2="1207" y2="77" stroke="#000" stroke-width="1.6" stroke-dasharray="5,3"/>
<path d="M1202.5,82 L1207,75.5 L1211.5,82" fill="none" stroke="#000" stroke-width="1.6"/>
<text x="0" y="0" font-size="37.75" font-weight="bold" font-style="normal" fill="#000" transform="translate(32.26,380.37) scale(1.0784,1)" >(</text>
<text x="0" y="0" font-size="41.22" font-weight="bold" font-style="normal" fill="#000" transform="translate(49.18,382.89) scale(1.1288,1)" >b</text>
<text x="0" y="0" font-size="37.75" font-weight="bold" font-style="normal" fill="#000" transform="translate(80.6,380.37) scale(1.0688,1)" >)</text>
<rect x="186" y="385.3" width="30.2" height="321.3" fill="#000" opacity="0.4" filter="url(#bsh)"/>
<rect x="216.2" y="385.3" width="30.4" height="445.8" fill="#000" opacity="0.4" filter="url(#bsh)"/>
<rect x="292" y="385.3" width="29.9" height="656" fill="#000" opacity="0.4" filter="url(#bsh)"/>
<rect x="321.9" y="385.3" width="30.3" height="630.2" fill="#000" opacity="0.4" filter="url(#bsh)"/>
<rect x="397.5" y="385.3" width="30.4" height="441.1" fill="#000" opacity="0.4" filter="url(#bsh)"/>
<rect x="427.9" y="385.3" width="30.5" height="428.1" fill="#000" opacity="0.4" filter="url(#bsh)"/>
<rect x="503.4" y="385.3" width="30.2" height="277.4" fill="#000" opacity="0.4" filter="url(#bsh)"/>
<rect x="533.6" y="385.3" width="30.5" height="274.3" fill="#000" opacity="0.4" filter="url(#bsh)"/>
<rect x="609.8" y="385.3" width="29.8" height="179.8" fill="#000" opacity="0.4" filter="url(#bsh)"/>
<rect x="639.6" y="385.3" width="30.5" height="111.9" fill="#000" opacity="0.4" filter="url(#bsh)"/>
<rect x="715.7" y="385.3" width="30.1" height="94.1" fill="#000" opacity="0.4" filter="url(#bsh)"/>
<rect x="745.8" y="385.3" width="30.3" height="105.1" fill="#000" opacity="0.4" filter="url(#bsh)"/>
<rect x="821.1" y="385.3" width="30.3" height="119.1" fill="#000" opacity="0.4" filter="url(#bsh)"/>
<rect x="851.4" y="385.3" width="30.6" height="130.5" fill="#000" opacity="0.4" filter="url(#bsh)"/>
<rect x="927" y="385.3" width="30.1" height="146" fill="#000" opacity="0.4" filter="url(#bsh)"/>
<rect x="957.1" y="385.3" width="30.5" height="162.2" fill="#000" opacity="0.4" filter="url(#bsh)"/>
<rect x="1033.1" y="385.3" width="30.1" height="128.5" fill="#000" opacity="0.4" filter="url(#bsh)"/>
<rect x="1063.2" y="385.3" width="30.5" height="142.6" fill="#000" opacity="0.4" filter="url(#bsh)"/>
<rect x="1139.1" y="385.3" width="30.1" height="90.1" fill="#000" opacity="0.4" filter="url(#bsh)"/>
<rect x="1169.2" y="385.3" width="30.5" height="101" fill="#000" opacity="0.4" filter="url(#bsh)"/>
<rect x="186" y="382.8" width="30.5" height="321.3" fill="url(#gr)"/>
<rect x="216.2" y="382.8" width="30.4" height="445.8" fill="url(#gg)"/>
<rect x="292" y="382.8" width="30.2" height="656" fill="url(#gr)"/>
<rect x="321.9" y="382.8" width="30.3" height="630.2" fill="url(#gg)"/>
<rect x="397.5" y="382.8" width="30.7" height="441.1" fill="url(#gr)"/>
<rect x="427.9" y="382.8" width="30.5" height="428.1" fill="url(#gg)"/>
<rect x="503.4" y="382.8" width="30.5" height="277.4" fill="url(#gr)"/>
<rect x="533.6" y="382.8" width="30.5" height="274.3" fill="url(#gg)"/>
<rect x="609.8" y="382.8" width="30.1" height="179.8" fill="url(#gr)"/>
<rect x="639.6" y="382.8" width="30.5" height="111.9" fill="url(#gg)"/>
<rect x="715.7" y="382.8" width="30.4" height="94.1" fill="url(#gr)"/>
<rect x="745.8" y="382.8" width="30.3" height="105.1" fill="url(#gg)"/>
<rect x="821.1" y="382.8" width="30.6" height="119.1" fill="url(#gr)"/>
<rect x="851.4" y="382.8" width="30.6" height="130.5" fill="url(#gg)"/>
<rect x="927" y="382.8" width="30.4" height="146" fill="url(#gr)"/>
<rect x="957.1" y="382.8" width="30.5" height="162.2" fill="url(#gg)"/>
<rect x="1033.1" y="382.8" width="30.4" height="128.5" fill="url(#gr)"/>
<rect x="1063.2" y="382.8" width="30.5" height="142.6" fill="url(#gg)"/>
<rect x="1139.1" y="382.8" width="30.4" height="90.1" fill="url(#gr)"/>
<rect x="1169.2" y="382.8" width="30.5" height="101" fill="url(#gg)"/>
<text x="0" y="0" font-size="29.3" font-weight="normal" font-style="normal" fill="#000" transform="translate(175.03,364.71) scale(1.0529,1)" >MoS2</text>
<text x="0" y="0" font-size="29.3" font-weight="normal" font-style="normal" fill="#000" transform="translate(282.86,364.71) scale(0.9965,1)" >MoSF</text>
<text x="0" y="0" font-size="28.3" font-weight="normal" font-style="normal" fill="#000" transform="translate(383,364.72) scale(1.0595,1)" >MoSCl</text>
<text x="0" y="0" font-size="29.3" font-weight="normal" font-style="normal" fill="#000" transform="translate(487.33,364.71) scale(1.0114,1)" >MoSBr</text>
<text x="0" y="0" font-size="29.3" font-weight="normal" font-style="normal" fill="#000" transform="translate(601.98,364.71) scale(1.0746,1)" >MoSI</text>
<text x="0" y="0" font-size="29.3" font-weight="normal" font-style="normal" fill="#000" transform="translate(703.47,364.71) scale(1.0351,1)" >MoSN</text>
<text x="0" y="0" font-size="29.3" font-weight="normal" font-style="normal" fill="#000" transform="translate(810.74,364.71) scale(1.0069,1)" >MoSP</text>
<text x="0" y="0" font-size="29.3" font-weight="normal" font-style="normal" fill="#000" transform="translate(908.84,364.71) scale(1.0076,1)" >MoSAs</text>
<text x="0" y="0" font-size="28.3" font-weight="normal" font-style="normal" fill="#000" transform="translate(1014.45,364.72) scale(1.0366,1)" >MoSSb</text>
<text x="0" y="0" font-size="28.3" font-weight="normal" font-style="normal" fill="#000" transform="translate(1123.65,364.72) scale(1.0803,1)" >MoSBi</text>
<rect x="163.7" y="381.2" width="1058.7" height="686.3" fill="none" stroke="#000" stroke-width="3.2"/>
<path d="M163.7,398.36H171.5M163.7,415.52H171.5M163.7,432.68H171.5M163.7,449.84H171.5M163.7,467H174M163.7,484.16H171.5M163.7,501.32H171.5M163.7,518.48H171.5M163.7,535.64H171.5M163.7,552.8H174M163.7,569.96H171.5M163.7,587.12H171.5M163.7,604.28H171.5M163.7,621.44H171.5M163.7,638.6H174M163.7,655.76H171.5M163.7,672.92H171.5M163.7,690.08H171.5M163.7,707.24H171.5M163.7,724.4H174M163.7,741.56H171.5M163.7,758.72H171.5M163.7,775.88H171.5M163.7,793.04H171.5M163.7,810.2H174M163.7,827.36H171.5M163.7,844.52H171.5M163.7,861.68H171.5M163.7,878.84H171.5M163.7,896H174M163.7,913.16H171.5M163.7,930.32H171.5M163.7,947.48H171.5M163.7,964.64H171.5M163.7,981.8H174M163.7,998.96H171.5M163.7,1016.12H171.5M163.7,1033.28H171.5M163.7,1050.44H171.5" stroke="#000" stroke-width="1.7" fill="none"/>
<text x="0" y="0" font-size="28.45" font-weight="normal" font-style="normal" fill="#000" transform="translate(114.73,394.42) scale(1.1130,1)" >0</text>
<text x="0" y="0" font-size="28.86" font-weight="normal" font-style="normal" fill="#000" transform="translate(103.73,480.5) scale(1.1333,1)" >-2</text>
<text x="0" y="0" font-size="29.28" font-weight="normal" font-style="normal" fill="#000" transform="translate(103.76,566.3) scale(1.0897,1)" >-4</text>
<text x="0" y="0" font-size="28.45" font-weight="normal" font-style="normal" fill="#000" transform="translate(103.75,651.82) scale(1.1352,1)" >-6</text>
<text x="0" y="0" font-size="28.45" font-weight="normal" font-style="normal" fill="#000" transform="translate(103.75,737.62) scale(1.1352,1)" >-8</text>
<text x="0" y="0" font-size="28.45" font-weight="normal" font-style="normal" fill="#000" transform="translate(86.37,823.42) scale(1.1175,1)" >-10</text>
<text x="0" y="0" font-size="28.86" font-weight="normal" font-style="normal" fill="#000" transform="translate(86.35,909.5) scale(1.1140,1)" >-12</text>
<text x="0" y="0" font-size="29.28" font-weight="normal" font-style="normal" fill="#000" transform="translate(86.37,995.3) scale(1.0821,1)" >-14</text>
<text x="0" y="0" font-size="28.45" font-weight="normal" font-style="normal" fill="#000" transform="translate(86.36,1080.82) scale(1.1217,1)" >-16</text>
<g transform="translate(72.1,774.3) rotate(-90)"><text x="0" y="0" font-size="31.45" font-weight="normal" font-style="italic" fill="#000" transform="translate(-0.05,0) scale(0.6852,1)" >E</text><text x="0" y="0" font-size="21.09" font-weight="normal" font-style="italic" fill="#000" transform="translate(14.95,8.59) scale(0.8619,1)" >coh</text><text x="0" y="0" font-size="29.84" font-weight="normal" font-style="normal" fill="#000" transform="translate(52.68,-0.17) scale(0.9675,1)" >[eV]</text></g>
<rect x="1106.3" y="582.3" width="17" height="15.4" fill="url(#gr)"/>
<rect x="1106.3" y="638.9" width="17" height="15.3" fill="url(#gg)"/>
<text x="0" y="0" font-size="32.61" font-weight="normal" font-style="normal" fill="#000" transform="translate(1130.62,604.5) scale(1.0437,1)" >T</text>
<text x="0" y="0" font-size="32.9" font-weight="normal" font-style="normal" fill="#000" transform="translate(1130.41,661.6) scale(1.0584,1)" >H</text>
<rect x="483" y="732.7" width="350.7" height="292.3" fill="#fff"/>
<g clip-path="url(#c1)" fill="none" stroke-width="1.8" stroke-linecap="round">
<path d="M483,809.5 C485.23,809.62 492.35,810.62 496.4,810.2 C500.45,809.78 503.22,808.9 507.3,807 C511.38,805.1 516.37,801.52 520.9,798.8 C525.43,796.08 529.95,793.3 534.5,790.7 C539.05,788.1 543.65,785.48 548.2,783.2 C552.75,780.92 557.27,778.82 561.8,777 C566.33,775.18 570.85,773.67 575.4,772.3 C579.95,770.93 585,769.67 589.1,768.8 C593.2,767.93 596.35,767.48 600,767.1 C603.65,766.72 607.67,766.18 611,766.5 C614.33,766.82 614.1,765.82 620,769 C625.9,772.18 637.98,780.52 646.4,785.6 C654.82,790.68 664.02,796.77 670.5,799.5 C676.98,802.23 677.88,801.9 685.3,802 C692.72,802.1 706.03,799.43 715,800.1 C723.97,800.77 730.45,803.15 739.1,806 C747.75,808.85 759.17,814.42 766.9,817.2 C774.63,819.98 779.32,822.4 785.5,822.7 C791.68,823 795.97,820.85 804,819 C812.03,817.15 828.75,812.83 833.7,811.6" stroke="#3a4ea6"/>
<path d="M483,810.4 C485.9,811.53 494.08,815.6 500.4,817.2 C506.72,818.8 515.22,820.45 520.9,820 C526.58,819.55 529.95,817.47 534.5,814.5 C539.05,811.53 543.65,806.52 548.2,802.2 C552.75,797.88 557.27,792.92 561.8,788.6 C566.33,784.28 570.85,779.7 575.4,776.3 C579.95,772.9 585,770.23 589.1,768.2 C593.2,766.17 596.35,765.02 600,764.1 C603.65,763.18 604.82,763.75 611,762.7 C617.18,761.65 628.73,760.62 637.1,757.8 C645.47,754.98 653.17,748.88 661.2,745.8 C669.23,742.72 676.95,739.47 685.3,739.3 C693.65,739.13 702.33,742.02 711.3,744.8 C720.27,747.58 729.83,751.35 739.1,756 C748.37,760.65 757.63,766.53 766.9,772.7 C776.17,778.87 786.05,787.2 794.7,793 C803.35,798.8 812.3,804.65 818.8,807.5 C825.3,810.35 831.22,809.67 833.7,810.1" stroke="#3a4ea6"/>
<path d="M483,811.8 C485.9,812.93 494.08,815.65 500.4,818.6 C506.72,821.55 514.08,826.77 520.9,829.5 C527.72,832.23 535.85,834.2 541.3,835 C546.75,835.8 547.92,835.55 553.6,834.3 C559.28,833.05 568.35,829.72 575.4,827.5 C582.45,825.28 589.97,822.37 595.9,821 C601.83,819.63 605.68,819.97 611,819.3 C616.32,818.63 620.37,819.83 627.8,817 C635.23,814.17 646.02,806.5 655.6,802.3 C665.18,798.1 677.25,793.02 685.3,791.8 C693.35,790.58 698.33,791.7 703.9,795 C709.47,798.3 713.77,806.43 718.7,811.6 C723.63,816.77 728.28,823.18 733.5,826 C738.72,828.82 744.43,828.12 750,828.5 C755.57,828.88 759.45,829.1 766.9,828.3 C774.35,827.5 786.05,826.33 794.7,823.7 C803.35,821.07 812.3,814.67 818.8,812.5 C825.3,810.33 831.22,811 833.7,810.7" stroke="#3a4ea6"/>
<path d="M483,812.5 C485.9,813.28 494.08,815.78 500.4,817.2 C506.72,818.62 515.22,819.28 520.9,821 C526.58,822.72 529.05,825.17 534.5,827.5 C539.95,829.83 546.78,832.97 553.6,835 C560.42,837.03 568.35,838.68 575.4,839.7 C582.45,840.72 589.97,840.98 595.9,841.1 C601.83,841.22 604.75,840.75 611,840.4 C617.25,840.05 625.03,837.62 633.4,839 C641.77,840.38 652.55,845.75 661.2,848.7 C669.85,851.65 677,857.48 685.3,856.7 C693.6,855.92 703.27,847.5 711,844 C718.73,840.5 723.93,835.78 731.7,835.7 C739.47,835.62 748.63,843.5 757.6,843.5 C766.57,843.5 776.22,840.08 785.5,835.7 C794.78,831.32 805.27,821.07 813.3,817.2 C821.33,813.33 830.3,813.28 833.7,812.5" stroke="#3a4ea6"/>
<path d="M483,909.7 C486.75,910.13 497.52,909.97 505.5,912.3 C513.48,914.63 523.48,919.57 530.9,923.7 C538.32,927.83 544.07,933.55 550,937.1 C555.93,940.65 561.2,944.37 566.5,945 C571.8,945.63 576.07,943.92 581.8,940.9 C587.53,937.88 596.03,929.8 600.9,926.9 C605.77,924 603.42,924.15 611,923.5 C618.58,922.85 634.02,924.42 646.4,923 C658.78,921.58 674.48,914.32 685.3,915 C696.12,915.68 703.02,923.27 711.3,927.1 C719.58,930.93 727.9,935.78 735,938 C742.1,940.22 745.48,942.07 753.9,940.4 C762.32,938.73 775.6,932.68 785.5,928 C795.4,923.32 805.27,915.38 813.3,912.3 C821.33,909.22 830.3,909.97 833.7,909.5" stroke="#e8141c"/>
<path d="M483,963.2 C485.05,961.4 489.43,955.8 495.3,952.4 C501.17,949 511.2,943.65 518.2,942.8 C525.2,941.95 530.08,944.33 537.3,947.3 C544.52,950.27 554.08,957 561.5,960.6 C568.92,964.2 573.55,967.12 581.8,968.9 C590.05,970.68 601.78,970.85 611,971.3 C620.22,971.75 624.72,969.78 637.1,971.6 C649.48,973.42 672.93,982.2 685.3,982.2 C697.67,982.2 700.78,976.77 711.3,971.6 C721.82,966.43 736.03,956.62 748.4,951.2 C760.77,945.78 775.3,940.03 785.5,939.1 C795.7,938.17 801.57,941.73 809.6,945.6 C817.63,949.47 829.68,959.52 833.7,962.3" stroke="#e8141c"/>
<path d="M483,963.2 C486.75,964.58 497.73,967.9 505.5,971.5 C513.27,975.1 521.12,979.72 529.6,984.8 C538.08,989.88 547.7,997.13 556.4,1002 C565.1,1006.87 572.7,1010.87 581.8,1014 C590.9,1017.13 600.23,1020.45 611,1020.8 C621.77,1021.15 634.02,1018.48 646.4,1016.1 C658.78,1013.72 674.48,1006.8 685.3,1006.5 C696.12,1006.2 700.78,1011.72 711.3,1014.3 C721.82,1016.88 739.75,1021.38 748.4,1022 C757.05,1022.62 757.02,1022.68 763.2,1018 C769.38,1013.32 777.15,1001.48 785.5,993.9 C793.85,986.32 805.27,977.6 813.3,972.5 C821.33,967.4 830.3,964.83 833.7,963.3" stroke="#e8141c"/>
<path d="M483,1003.3 C488.02,1002.02 505.33,998.68 513.1,995.6 C520.87,992.52 521.53,990.63 529.6,984.8 C537.67,978.97 551.73,967.48 561.5,960.6 C571.27,953.72 579.95,947.1 588.2,943.5 C596.45,939.9 605.32,938.95 611,939 C616.68,939.05 617.95,938.98 622.3,943.8 C626.65,948.62 632.17,959.25 637.1,967.9 C642.03,976.55 646.75,986.68 651.9,995.7 C657.05,1004.72 664.65,1016.28 668,1022 C671.35,1027.72 671.33,1028.67 672,1030" stroke="#e8141c"/>
<path d="M483,966.4 C488.02,971.27 503.42,985.95 513.1,995.6 C522.78,1005.25 535.78,1018.73 541.1,1024.3 C546.42,1029.87 544.35,1028.22 545,1029" stroke="#e8141c"/>
<path d="M483,1003.3 C486.17,1004.15 495.72,1004.9 502,1008.4 C508.28,1011.9 517.03,1020.87 520.7,1024.3 C524.37,1027.73 523.45,1028.22 524,1029" stroke="#e8141c"/>
<path d="M700,1030 C700.83,1028.67 700.03,1027.1 705,1022 C709.97,1016.9 720.1,1007.03 729.8,999.4 C739.5,991.77 753.92,978.67 763.2,976.2 C772.48,973.73 778.7,981.35 785.5,984.6 C792.3,987.85 795.97,992.62 804,995.7 C812.03,998.78 828.75,1001.87 833.7,1003.1" stroke="#e8141c"/>
<path d="M762,1030 C762.82,1029.08 762.23,1029.5 766.9,1024.5 C771.57,1019.5 782.27,1007.75 790,1000 C797.73,992.25 806.02,983.67 813.3,978 C820.58,972.33 830.3,968 833.7,966" stroke="#e8141c"/>
<path d="M790,1030 C790.78,1029.08 790.82,1027.83 794.7,1024.5 C798.58,1021.17 806.8,1013.57 813.3,1010 C819.8,1006.43 830.3,1004.25 833.7,1003.1" stroke="#e8141c"/>
</g>
<path d="M611,732.7V1025 M685.3,732.7V1025 M483,878.85H833.7" stroke="#000" stroke-width="2" stroke-dasharray="8,4.6" fill="none"/>
<path d="M483,750.97H488.5M833.7,750.97H828.2M483,769.24H494M833.7,769.24H822.7M483,787.51H488.5M833.7,787.51H828.2M483,805.78H494M833.7,805.78H822.7M483,824.04H488.5M833.7,824.04H828.2M483,842.31H494M833.7,842.31H822.7M483,860.58H488.5M833.7,860.58H828.2M483,878.85H494M833.7,878.85H822.7M483,897.12H488.5M833.7,897.12H828.2M483,915.39H494M833.7,915.39H822.7M483,933.66H488.5M833.7,933.66H828.2M483,951.92H494M833.7,951.92H822.7M483,970.19H488.5M833.7,970.19H828.2M483,988.46H494M833.7,988.46H822.7M483,1006.73H488.5M833.7,1006.73H828.2" stroke="#000" stroke-width="2" fill="none"/>
<rect x="483" y="732.7" width="350.7" height="292.3" fill="none" stroke="#000" stroke-width="2"/>
<rect x="853" y="733" width="351" height="292.4" fill="#fff"/>
<g clip-path="url(#c2)" fill="none" stroke-width="1.8" stroke-linecap="round">
<path d="M853,811.1 C857.65,810.58 869.82,809.62 880.9,808 C891.98,806.38 907.92,802.93 919.5,801.4 C931.08,799.87 940.12,799.12 950.4,798.8 C960.68,798.48 973.45,799.07 981.2,799.5 C988.95,799.93 993.02,801.65 996.9,801.4 C1000.78,801.15 1001.25,800.63 1004.5,798 C1007.75,795.37 1011.33,790.28 1016.4,785.6 C1021.47,780.92 1028.37,773.75 1034.9,769.9 C1041.43,766.05 1049.42,762.82 1055.6,762.5 C1061.78,762.18 1066.48,764.15 1072,768 C1077.52,771.85 1082.83,778.65 1088.7,785.6 C1094.57,792.55 1102.87,805.47 1107.2,809.7 C1111.53,813.93 1108.2,811.37 1114.7,811 C1121.2,810.63 1136.32,807.87 1146.2,807.5 C1156.08,807.13 1164.37,808.22 1174,808.8 C1183.63,809.38 1199,810.63 1204,811" stroke="#3a4ea6"/>
<path d="M853,811.1 C857.65,812.52 870.58,815.48 880.9,819.6 C891.22,823.72 904.6,834 914.9,835.8 C925.2,837.6 932.92,833.48 942.7,830.4 C952.48,827.32 967.18,819.75 973.6,817.3 C980.02,814.85 976.85,816.9 981.2,815.7 C985.55,814.5 992.3,808.62 999.7,810.1 C1007.1,811.58 1016.28,821.2 1025.6,824.6 C1034.92,828 1046.32,830.2 1055.6,830.5 C1064.88,830.8 1073.32,827.53 1081.3,826.4 C1089.28,825.27 1094.23,822.45 1103.5,823.7 C1112.77,824.95 1126.7,833.45 1136.9,833.9 C1147.1,834.35 1153.52,830.22 1164.7,826.4 C1175.88,822.58 1197.45,813.57 1204,811" stroke="#3a4ea6"/>
<path d="M853,891.5 C860.23,890.85 885.32,889.8 896.4,887.6 C907.48,885.4 910.5,883.97 919.5,878.3 C928.5,872.63 940.12,860.22 950.4,853.6 C960.68,846.98 970.2,840.35 981.2,838.6 C992.2,836.85 1004,840.03 1016.4,843.1 C1028.8,846.17 1046.33,856.07 1055.6,857 C1064.87,857.93 1064.63,852.4 1072,848.7 C1079.37,845 1092.68,836.03 1099.8,834.8 C1106.92,833.57 1108.52,835.9 1114.7,841.3 C1120.88,846.7 1130.73,860.4 1136.9,867.2 C1143.07,874 1145.52,878.32 1151.7,882.1 C1157.88,885.88 1165.28,888.3 1174,889.9 C1182.72,891.5 1199,891.4 1204,891.7" stroke="#3a4ea6"/>
<path d="M853,891.5 C858.93,892.02 876.73,896.58 888.6,894.6 C900.47,892.62 912.6,886.95 924.2,879.6 C935.8,872.25 948.7,857.28 958.2,850.5 C967.7,843.72 973.07,837.97 981.2,838.9 C989.33,839.83 998.05,851.75 1007,856.1 C1015.95,860.45 1026.8,863.92 1034.9,865 C1043,866.08 1047.87,861.3 1055.6,862.6 C1063.33,863.9 1070.83,868.78 1081.3,872.8 C1091.77,876.82 1104.5,883.15 1118.4,886.7 C1132.3,890.25 1150.43,893.33 1164.7,894.1 C1178.97,894.87 1197.45,891.77 1204,891.3" stroke="#3a4ea6"/>
<path d="M853,738.5 C855.58,738.93 864.63,740.85 868.5,741.1 C872.37,741.35 873.62,741.85 876.2,740 C878.78,738.15 882.7,731.67 884,730" stroke="#3a4ea6"/>
<path d="M1173,730 C1173.63,730.67 1174.17,732.2 1176.8,734 C1179.43,735.8 1184.27,740.08 1188.8,740.8 C1193.33,741.52 1201.47,738.72 1204,738.3" stroke="#3a4ea6"/>
<path d="M853,939.5 C855.83,939.63 863.83,939.22 870,940.3 C876.17,941.38 883.33,943.47 890,946 C896.67,948.53 902.33,952.67 910,955.5 C917.67,958.33 928.5,962.58 936,963 C943.5,963.42 949.33,959.58 955,958 C960.67,956.42 965.63,954.5 970,953.5 C974.37,952.5 977.03,952.05 981.2,952 C985.37,951.95 990.2,953.12 995,953.2 C999.8,953.28 1004.17,953.62 1010,952.5 C1015.83,951.38 1022.4,948.58 1030,946.5 C1037.6,944.42 1048.1,940.25 1055.6,940 C1063.1,939.75 1068.43,942.42 1075,945 C1081.57,947.58 1088,952.25 1095,955.5 C1102,958.75 1110.33,964 1117,964.5 C1123.67,965 1128.67,961.42 1135,958.5 C1141.33,955.58 1148.33,949.92 1155,947 C1161.67,944.08 1166.83,942.25 1175,941 C1183.17,939.75 1199.17,939.75 1204,939.5" stroke="#e8141c"/>
<path d="M853,994.6 C860.83,994.83 883.83,995.68 900,996 C916.17,996.32 936.47,996.55 950,996.5 C963.53,996.45 974.03,995.45 981.2,995.7 C988.37,995.95 989.03,996.62 993,998 C996.97,999.38 1000.5,1001.5 1005,1004 C1009.5,1006.5 1014.17,1010 1020,1013 C1025.83,1016 1034.07,1019.9 1040,1022 C1045.93,1024.1 1050.6,1025.35 1055.6,1025.6 C1060.6,1025.85 1064.27,1025.27 1070,1023.5 C1075.73,1021.73 1083.33,1018.25 1090,1015 C1096.67,1011.75 1103.67,1007 1110,1004 C1116.33,1001 1121.33,998.5 1128,997 C1134.67,995.5 1137.33,995.4 1150,995 C1162.67,994.6 1195,994.67 1204,994.6" stroke="#e8141c"/>
<path d="M853,994.6 C855,995.17 860.5,996.35 865,998 C869.5,999.65 874.17,1001.92 880,1004.5 C885.83,1007.08 893.33,1010.83 900,1013.5 C906.67,1016.17 912.57,1018.5 920,1020.5 C927.43,1022.5 939.27,1024.25 944.6,1025.5 C949.93,1026.75 950.77,1027.58 952,1028" stroke="#e8141c"/>
<path d="M1136,1030 C1137,1029.25 1138,1028.17 1142,1025.5 C1146,1022.83 1153.67,1017.67 1160,1014 C1166.33,1010.33 1172.67,1006.73 1180,1003.5 C1187.33,1000.27 1200,996.08 1204,994.6" stroke="#e8141c"/>
</g>
<path d="M981.2,733V1025.4 M1055.6,733V1025.4 M853,879.2H1204" stroke="#000" stroke-width="2" stroke-dasharray="8,4.6" fill="none"/>
<path d="M853,751.27H858M1204,751.27H1199M853,769.55H863M1204,769.55H1194M853,787.83H858M1204,787.83H1199M853,806.1H863M1204,806.1H1194M853,824.38H858M1204,824.38H1199M853,842.65H863M1204,842.65H1194M853,860.93H858M1204,860.93H1199M853,879.2H863M1204,879.2H1194M853,897.48H858M1204,897.48H1199M853,915.75H863M1204,915.75H1194M853,934.03H858M1204,934.03H1199M853,952.3H863M1204,952.3H1194M853,970.58H858M1204,970.58H1199M853,988.85H863M1204,988.85H1194M853,1007.13H858M1204,1007.13H1199" stroke="#000" stroke-width="2" fill="none"/>
<rect x="853" y="733" width="351" height="292.4" fill="none" stroke="#000" stroke-width="2"/>
<text x="0" y="0" font-size="25.21" font-weight="normal" font-style="normal" fill="#000" transform="translate(497.9,762.95) scale(0.9906,1)" >MoS</text>
<text x="0" y="0" font-size="24.29" font-weight="normal" font-style="normal" fill="#000" transform="translate(549.61,768.1) scale(1.0588,1)" >2</text>
<text x="0" y="0" font-size="25.21" font-weight="normal" font-style="normal" fill="#000" transform="translate(883.19,765.55) scale(0.9975,1)" >MoSF</text>
<text x="0" y="0" font-size="19.57" font-weight="normal" font-style="normal" fill="#000" transform="translate(466.42,740.15) scale(0.9615,1)" >4</text>
<text x="0" y="0" font-size="19.01" font-weight="normal" font-style="normal" fill="#000" transform="translate(466,776.5) scale(1.0519,1)" >3</text>
<text x="0" y="0" font-size="19.29" font-weight="normal" font-style="normal" fill="#000" transform="translate(465.76,813.23) scale(1.0826,1)" >2</text>
<text x="0" y="0" font-size="19.57" font-weight="normal" font-style="normal" fill="#000" transform="translate(465.16,849.76) scale(1.1162,1)" >1</text>
<text x="0" y="0" font-size="19.01" font-weight="normal" font-style="normal" fill="#000" transform="translate(466.01,886.11) scale(1.0409,1)" >0</text>
<text x="0" y="0" font-size="19.57" font-weight="normal" font-style="normal" fill="#000" transform="translate(458.66,922.84) scale(1.0669,1)" >-1</text>
<text x="0" y="0" font-size="19.29" font-weight="normal" font-style="normal" fill="#000" transform="translate(458.65,959.38) scale(1.0892,1)" >-2</text>
<text x="0" y="0" font-size="19.01" font-weight="normal" font-style="normal" fill="#000" transform="translate(458.67,995.72) scale(1.0911,1)" >-3</text>
<text x="0" y="0" font-size="19.57" font-weight="normal" font-style="normal" fill="#000" transform="translate(458.68,1032.45) scale(1.0473,1)" >-4</text>
<text x="0" y="0" font-size="21.41" font-weight="normal" font-style="normal" fill="#000" transform="translate(476.16,1045.29) scale(0.9699,1)" >G</text>
<text x="0" y="0" font-size="21.16" font-weight="normal" font-style="normal" fill="#000" transform="translate(602.54,1045.2) scale(1.0369,1)" >M</text>
<text x="0" y="0" font-size="21.16" font-weight="normal" font-style="normal" fill="#000" transform="translate(678.33,1045.2) scale(0.9863,1)" >K</text>
<text x="0" y="0" font-size="21.41" font-weight="normal" font-style="normal" fill="#000" transform="translate(827.72,1045.29) scale(0.9199,1)" >G</text>
<text x="0" y="0" font-size="21.41" font-weight="normal" font-style="normal" fill="#000" transform="translate(846.68,1045.29) scale(0.9556,1)" >G</text>
<text x="0" y="0" font-size="21.16" font-weight="normal" font-style="normal" fill="#000" transform="translate(972.94,1045.2) scale(1.0369,1)" >M</text>
<text x="0" y="0" font-size="21.16" font-weight="normal" font-style="normal" fill="#000" transform="translate(1048.05,1045.2) scale(1.0356,1)" >K</text>
<text x="0" y="0" font-size="21.41" font-weight="normal" font-style="normal" fill="#000" transform="translate(1196.47,1045.29) scale(0.9627,1)" >G</text>
<g transform="translate(452.4,924.7) rotate(-90)"><text x="0" y="0" font-size="20.87" font-weight="normal" font-style="normal" fill="#000" transform="translate(-1.62,0) scale(0.9697,1)" >E - E</text><text x="0" y="0" font-size="14.93" font-weight="normal" font-style="normal" fill="#000" transform="translate(44.04,3.3) scale(0.9707,1)" >F</text><text x="0" y="0" font-size="20.43" font-weight="normal" font-style="normal" fill="#000" transform="translate(55.25,-0.49) scale(1.0120,1)" >[eV]</text></g>
</svg>
</body></html>
